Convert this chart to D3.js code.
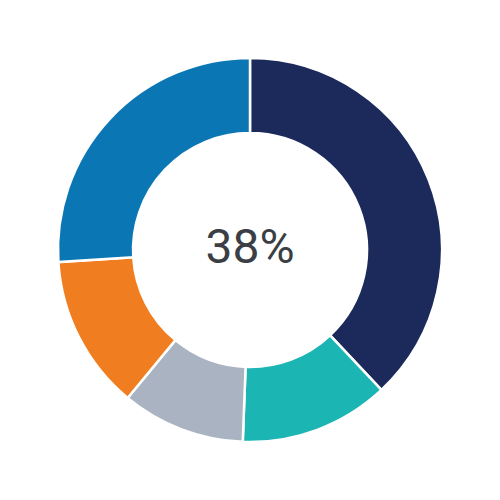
<!DOCTYPE html>
<meta charset="utf-8">
<script src="https://d3js.org/d3.v7.min.js"></script>
<style>
  body { margin: 0; background: #fff; }
</style>
<div id="chart"></div>
<script>
    // slice shares, clockwise from 12 o'clock
    const categories = ["A", "B", "C", "D", "E"];
    const values = [38, 12.6, 10.4, 13, 26];
    const colors = ["#1b2a5a", "#1bb5b3", "#a9b3c1", "#f07e20", "#0a76b4"];
    const centerLabel = "38%";

    const width = 500, height = 500;
    const outerR = 192, innerR = 117;

    const svg = d3.select("#chart")
      .append("svg")
        .attr("width", width)
        .attr("height", height)
      .append("g")
        .attr("transform", `translate(${width / 2}, ${height / 2})`);

    const data = categories.map((c, i) => ({ name: c, value: values[i], color: colors[i] }));

    const pie = d3.pie().value(d => d.value).sort(null);
    const arc = d3.arc().innerRadius(innerR).outerRadius(outerR);

    svg.selectAll("path")
      .data(pie(data))
      .join("path")
        .attr("d", arc)
        .attr("fill", d => d.data.color)
        .attr("stroke", "#fff")
        .attr("stroke-width", 2.5);

    svg.append("text")
        .attr("y", 13)
        .attr("text-anchor", "middle")
        .style("font-family", "Roboto, sans-serif")
        .style("font-size", "48px")
        .style("fill", "#3b3f45")
        .text(centerLabel);
</script>
</html>
